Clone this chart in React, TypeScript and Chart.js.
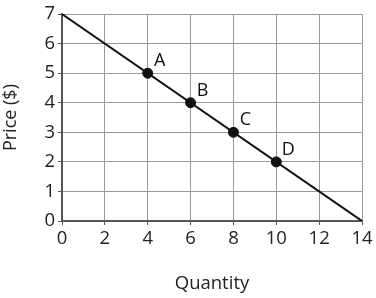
import React, { useEffect, useRef } from "react";
import { Chart, registerables } from "chart.js";
Chart.register(...registerables);

const linePoints = [
  { x: 0, y: 7 },
  { x: 14, y: 0 },
];
const markedPoints = [
  { x: 4, y: 5 },
  { x: 6, y: 4 },
  { x: 8, y: 3 },
  { x: 10, y: 2 },
];
const pointLabels = ["A", "B", "C", "D"];
const xTitle = "Quantity";
const yTitle = "Price ($)";

const FONT = "'Open Sans', 'DejaVu Sans', sans-serif";

const labelPlugin = {
  id: "pointLabels",
  afterDatasetsDraw(chart: any) {
    const meta = chart.getDatasetMeta(1);
    const ctx = chart.ctx;
    ctx.save();
    ctx.fillStyle = "#111";
    ctx.font = `18px ${FONT}`;
    ctx.textAlign = "center";
    ctx.textBaseline = "middle";
    meta.data.forEach((el: any, i: number) => {
      ctx.fillText(pointLabels[i], el.x + 12, el.y - 12);
    });
    ctx.restore();
  },
};

export default function App() {
  const ref = useRef<HTMLCanvasElement>(null);
  useEffect(() => {
    document.body.style.margin = "0";
    const chart = new Chart(ref.current!, {
      type: "scatter",
      data: {
        datasets: [
          {
            data: linePoints,
            showLine: true,
            borderColor: "#111",
            borderWidth: 2,
            pointRadius: 0,
          },
          {
            data: markedPoints,
            backgroundColor: "#111",
            borderColor: "#111",
            pointRadius: 5,
            pointHoverRadius: 5,
          },
        ],
      },
      options: {
        responsive: false,
        animation: false,
        layout: { padding: { top: 9, right: 14, left: 0, bottom: 0 } },
        plugins: { legend: { display: false }, tooltip: { enabled: false } },
        scales: {
          x: {
            type: "linear",
            min: 0,
            max: 14,
            ticks: {
              stepSize: 2,
              color: "#222",
              font: { family: FONT, size: 18.5 },
              padding: 3,
            },
            grid: { color: "#9a9a9a", lineWidth: 1, tickLength: 4, tickColor: "#555" },
            border: { color: "#555", width: 2 },
            title: {
              display: true,
              text: xTitle,
              color: "#222",
              font: { family: FONT, size: 18.5 },
              padding: { top: 0, bottom: 3 },
            },
            afterFit(scale: any) {
              scale.height = 77;
            },
          },
          y: {
            type: "linear",
            min: 0,
            max: 7,
            ticks: {
              stepSize: 1,
              color: "#222",
              font: { family: FONT, size: 18.5 },
              padding: 3,
            },
            grid: { color: "#9a9a9a", lineWidth: 1, tickLength: 4, tickColor: "#555" },
            border: { color: "#555", width: 2 },
            title: {
              display: true,
              text: yTitle,
              color: "#222",
              font: { family: FONT, size: 18 },
              padding: { top: 0, bottom: 0 },
            },
            afterFit(scale: any) {
              scale.width = 62;
            },
          },
        },
      },
      plugins: [labelPlugin],
    });
    return () => chart.destroy();
  }, []);
  return <canvas ref={ref} width={376} height={298} />;
}
